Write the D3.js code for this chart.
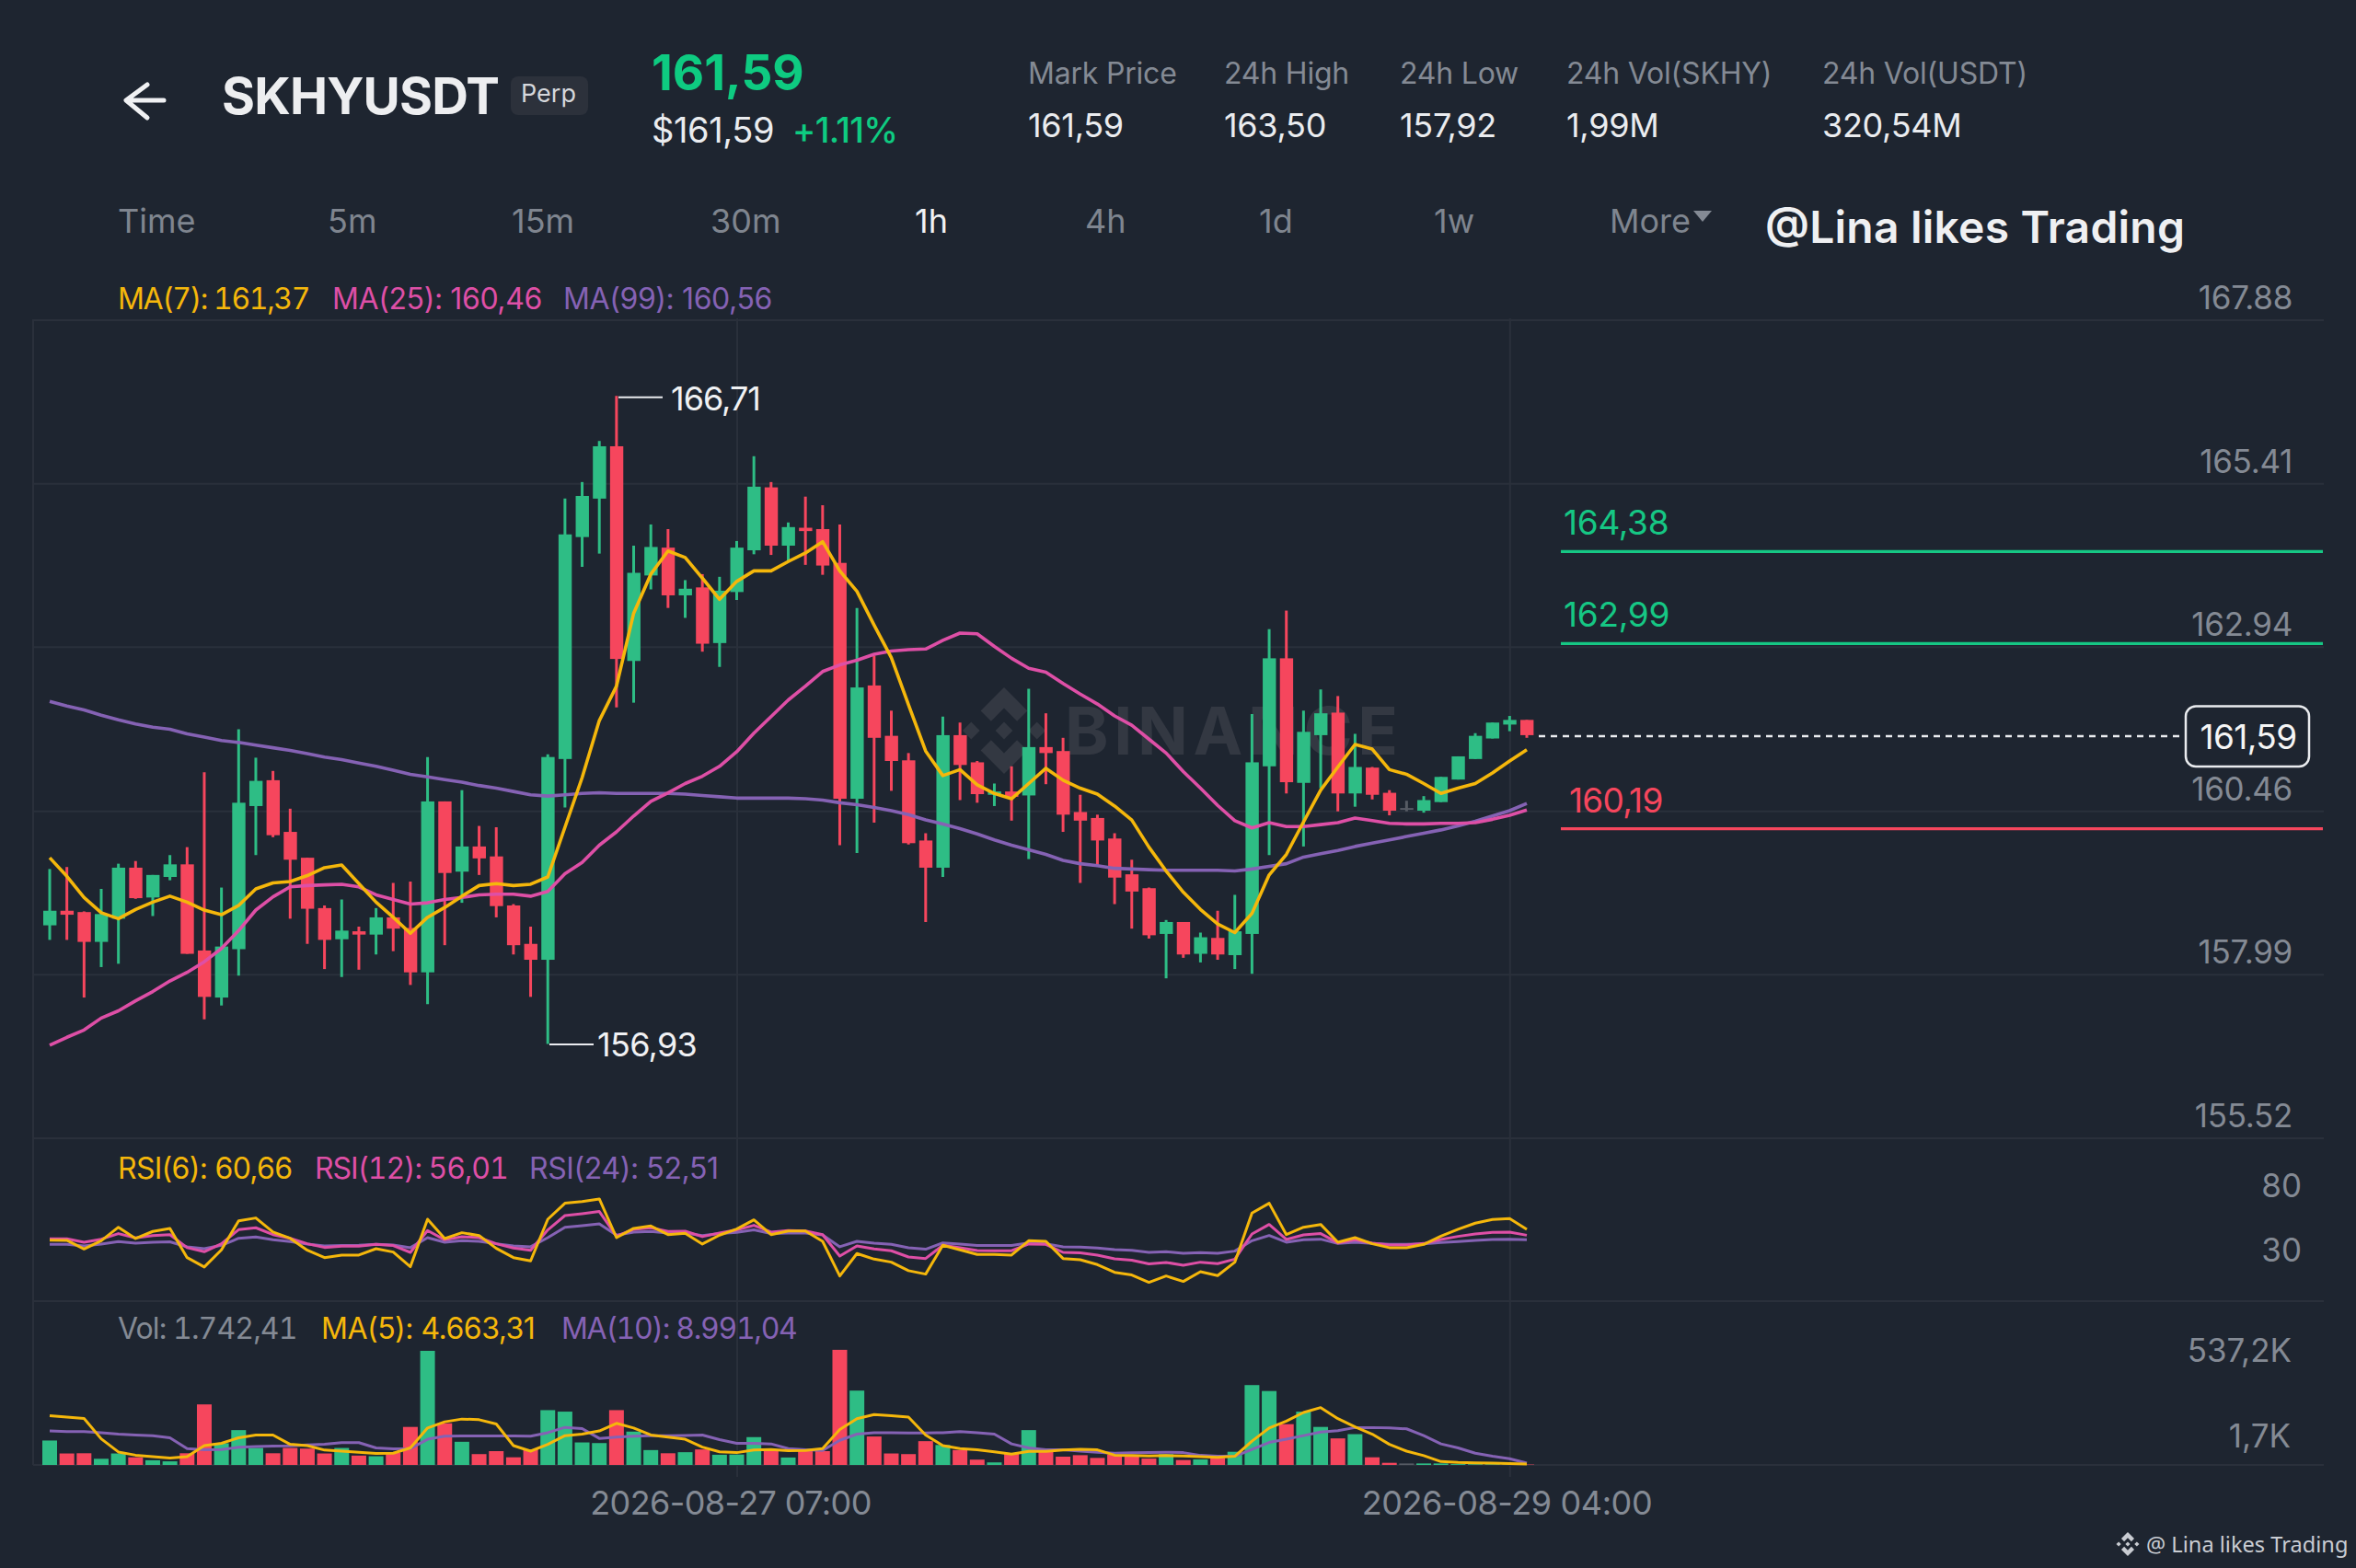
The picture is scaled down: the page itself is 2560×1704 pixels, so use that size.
<!DOCTYPE html>
<html><head><meta charset="utf-8">
<style>html,body{margin:0;padding:0;background:#1e2530;}svg{display:block;}text{font-family:Inter,"Noto Sans",sans-serif;}</style>
<script src="https://cdn.jsdelivr.net/npm/d3@7/dist/d3.min.js"></script>
</head><body><svg id="c" width="2560" height="1704"></svg>
<script>
const opens=[158.72,158.94,158.92,158.47,158.82,159.59,159.14,159.45,159.64,158.34,157.63,158.36,160.52,160.91,160.13,159.74,158.98,158.51,158.63,158.58,158.84,158.68,158.01,160.59,159.53,159.91,159.76,159.02,158.44,158.20,161.23,164.58,165.16,165.95,162.71,164.00,164.42,163.70,163.82,162.98,163.75,164.38,165.33,164.45,164.72,164.70,164.19,160.63,162.34,161.58,161.21,160.00,159.59,161.59,161.18,160.69,160.74,160.68,161.41,161.35,160.43,160.34,160.03,159.49,159.28,158.59,158.77,158.29,158.53,158.27,158.59,161.12,162.75,160.87,161.59,161.93,160.71,161.10,160.72,160.47,160.45,160.58,160.92,161.23,161.54,161.75,161.82];
const closes=[158.94,158.88,158.47,158.89,159.59,159.13,159.48,159.64,158.29,157.64,158.40,160.57,160.90,160.08,159.71,158.97,158.50,158.64,158.58,158.84,158.67,158.01,160.59,159.51,159.91,159.73,159.01,158.42,158.20,161.26,164.62,165.20,165.95,162.74,164.04,164.43,163.70,163.80,162.97,163.77,164.42,165.34,164.45,164.73,164.67,164.15,160.63,162.31,161.55,161.20,159.96,159.59,161.59,161.14,160.70,160.74,160.66,161.41,161.32,160.39,160.30,160.00,159.44,159.23,158.57,158.77,158.28,158.54,158.28,158.63,161.18,162.75,160.88,161.64,161.92,160.71,161.11,160.69,160.45,160.49,160.61,160.96,161.27,161.58,161.78,161.82,161.59];
const highs=[159.57,159.60,158.93,159.27,159.65,159.69,159.48,159.78,159.90,161.03,159.29,161.68,161.25,161.05,160.48,159.74,159.02,159.11,158.70,158.98,159.36,159.38,161.26,160.59,160.76,160.22,160.20,159.04,158.70,161.30,165.16,165.41,166.03,166.71,164.45,164.77,164.70,163.93,164.02,163.98,164.52,165.80,165.41,164.80,165.19,165.06,164.77,163.51,162.79,161.96,161.32,160.11,161.87,161.78,161.20,160.86,161.12,162.29,161.92,161.55,160.69,160.39,160.11,159.71,159.29,158.80,158.77,158.61,158.94,159.18,161.91,163.19,163.47,161.96,162.28,162.18,161.61,161.11,160.76,160.60,160.67,160.96,161.27,161.62,161.78,161.88,161.82];
const lows=[158.50,158.50,157.63,158.09,158.14,159.12,158.86,159.40,158.29,157.30,157.51,157.96,159.78,160.05,158.82,158.44,158.06,157.94,158.05,158.28,158.33,157.82,157.53,158.42,159.06,159.48,158.84,158.28,157.64,156.93,160.50,164.13,164.33,162.01,162.08,163.79,163.51,163.36,162.85,162.62,163.63,164.32,164.31,164.21,164.16,164.01,159.93,159.81,160.27,160.75,159.94,158.77,159.45,160.61,160.57,160.52,160.30,159.72,160.85,160.13,159.36,159.63,159.04,158.67,158.52,157.92,158.23,158.16,158.20,158.06,157.99,159.78,160.71,159.91,160.79,160.44,160.51,160.62,160.38,160.44,160.42,160.58,160.92,161.23,161.54,161.65,161.55];
const ma7=[159.74,159.46,159.14,158.91,158.82,158.96,159.07,159.16,159.07,158.95,158.88,159.02,159.27,159.36,159.38,159.47,159.59,159.63,159.35,159.07,158.84,158.60,158.84,158.99,159.16,159.32,159.35,159.32,159.34,159.45,160.20,160.95,161.81,162.33,163.43,164.02,164.37,164.27,163.96,163.64,163.91,164.07,164.07,164.21,164.34,164.51,164.07,163.76,163.25,162.76,162.05,161.35,160.98,161.07,160.84,160.71,160.63,160.86,161.09,160.91,160.79,160.70,160.52,160.31,159.90,159.54,159.22,158.96,158.74,158.61,158.90,159.48,159.79,160.28,160.76,161.11,161.45,161.38,161.07,161.00,160.86,160.71,160.79,160.86,161.02,161.20,161.37];
const ma25=[156.91,157.03,157.14,157.32,157.43,157.58,157.72,157.88,158.01,158.17,158.37,158.64,158.95,159.15,159.30,159.32,159.33,159.34,159.30,159.18,159.11,159.04,159.06,159.11,159.14,159.18,159.19,159.19,159.16,159.23,159.50,159.67,159.93,160.13,160.37,160.59,160.72,160.86,160.97,161.12,161.34,161.62,161.87,162.12,162.33,162.55,162.65,162.72,162.81,162.86,162.88,162.89,163.02,163.13,163.12,162.93,162.75,162.60,162.54,162.37,162.21,162.06,161.88,161.74,161.53,161.32,161.04,160.79,160.53,160.30,160.19,160.27,160.21,160.21,160.24,160.27,160.34,160.30,160.26,160.25,160.25,160.26,160.26,160.27,160.32,160.38,160.46];
const ma99=[162.10,162.03,161.97,161.89,161.82,161.76,161.71,161.68,161.61,161.56,161.51,161.48,161.44,161.40,161.36,161.31,161.26,161.22,161.17,161.12,161.06,161.00,160.96,160.92,160.88,160.83,160.79,160.74,160.69,160.67,160.69,160.71,160.72,160.71,160.71,160.71,160.71,160.70,160.68,160.66,160.64,160.64,160.64,160.64,160.63,160.61,160.57,160.54,160.50,160.45,160.39,160.31,160.25,160.18,160.10,160.01,159.93,159.86,159.79,159.70,159.65,159.62,159.58,159.57,159.56,159.55,159.55,159.55,159.55,159.54,159.57,159.61,159.65,159.75,159.80,159.85,159.91,159.96,160.01,160.06,160.11,160.16,160.22,160.29,160.37,160.45,160.56];
const rsi6=[52.2,52.0,45.2,51.7,62.3,53.4,59.0,61.4,38.4,31.0,44.5,67.4,69.6,58.5,53.6,44.2,38.4,40.4,40.4,45.4,42.8,31.2,68.6,53.4,58.0,55.8,45.7,38.4,35.8,68.6,81.2,82.6,84.6,54.1,61.4,63.3,56.5,57.5,49.1,56.1,60.9,68.1,56.5,59.4,59.4,51.2,23.9,41.6,37.2,34.8,28.1,25.4,48.1,44.5,40.9,40.9,40.4,51.7,51.2,37.7,36.7,32.9,26.8,24.7,18.9,23.9,19.6,27.3,24.2,34.8,73.5,81.2,56.5,62.3,64.5,50.5,54.1,49.3,46.2,46.2,48.8,55.3,60.7,65.5,68.4,69.1,60.66];
const rsi12=[53.2,53.2,50.5,52.9,57.3,53.9,55.8,56.5,46.2,43.0,49.3,60.4,61.9,56.5,53.6,49.3,46.4,47.4,47.4,48.8,47.9,42.5,59.7,52.4,54.9,54.1,49.3,46.0,44.2,60.2,71.5,73.0,74.7,55.3,60.7,61.9,59.0,59.2,54.9,57.8,60.2,63.8,58.5,59.7,59.4,56.5,39.6,47.6,45.2,43.8,38.9,37.7,48.1,46.2,44.0,43.8,43.8,49.1,48.8,42.5,42.1,40.4,37.5,36.3,33.4,34.6,32.4,34.8,33.6,37.2,57.0,64.5,52.7,56.3,57.3,50.0,52.4,49.8,48.3,48.3,49.5,52.7,55.1,57.0,58.2,58.5,56.01];
const rsi24=[48.8,48.8,47.6,49.1,51.0,49.8,50.5,50.8,46.9,45.4,48.1,53.6,54.6,52.4,51.0,49.1,47.6,47.9,48.1,48.8,48.3,46.2,54.1,50.5,51.7,51.2,49.3,47.6,46.9,54.1,62.3,63.6,65.0,56.1,58.5,59.0,57.8,57.8,55.8,57.3,58.3,60.2,57.3,57.8,57.8,56.3,46.9,51.2,49.8,48.8,46.2,45.0,50.0,49.1,47.9,47.9,47.9,50.0,49.3,46.9,46.6,46.0,44.7,44.2,42.5,43.0,41.8,42.3,41.8,43.5,51.7,55.8,50.5,52.4,52.9,49.5,50.5,49.5,48.8,48.8,49.3,50.3,51.0,52.0,52.7,52.9,52.51];
const volumes=[115,54,55,29,54,36,22,17,55,285,102,164,80,55,80,77,54,80,44,41,58,179,537.2,196,109,51,65,36,73,258,251,106,103,258,157,70,55,60,73,48,49,131,73,35,65,65,542,350,134,54,51,112,94,70,25,12,54,164,65,39,46,33,48,42,30,51,23,26,33,62,376,348,192,251,179,125,145,36,10,7,7,7,4,3,3,2.2,1.74];
const volMa5=[232,225,219,123,61,46,39,33,39,91,102,128,141,141,97,91,70,65,60,54,55,80,174,203,216,213,193,91,65,97,138,145,160,196,174,141,131,121,84,62,58,70,73,67,68,77,167,218,237,232,225,141,91,77,71,62,51,64,64,70,74,71,46,44,42,44,42,39,36,41,112,174,206,247,270,218,179,145,97,65,44,16,12,10,9,7,4.66];
const volMa10=[160,157,157,152,145,141,138,128,77,71,73,83,87,89,90,94,97,105,105,80,76,77,121,135,136,136,136,136,135,152,177,171,125,131,135,138,138,139,141,119,102,102,99,77,71,68,116,145,152,152,151,151,152,157,152,145,99,80,71,71,65,60,55,57,58,60,58,45,41,41,73,106,121,138,155,161,176,176,174,170,138,99,80,55,41,29,8.99];
const priceTicks=[167.88,165.41,162.94,160.46,157.99,155.52];
const rsiTicks=["80","30"];
const volTicks=["537,2K","1,7K"];
const dateLabels=["2026-08-27 07:00","2026-08-29 04:00"];
const dateIndex=[40,85];
const tabs=["Time","5m","15m","30m","1h","4h","1d","1w","More"];
const statLabels=["Mark Price","24h High","24h Low","24h Vol(SKHY)","24h Vol(USDT)"];
const statValues=["161,59","163,50","157,92","1,99M","320,54M"];
const priceLevels=[164.38,162.99,160.19];
const levelLabels=["164,38","162,99","160,19"];
const lastPrice=161.59;
const dimmed=[79];

const GREEN="#2EBD85",RED="#F6465D",YEL="#F5B70B",PINK="#DE4FA6",PUR="#8562B4",GRID="#2A303B",GREY="#848A94",WHITE="#EAECEF";
const svg=d3.select("#c");
svg.append("rect").attr("width",2560).attr("height",1704).attr("fill","#1E2530");
const x=d3.scaleLinear().domain([0,86]).range([54,1659]);
const y=d3.scaleLinear().domain([155.52,167.88]).range([1236,346]);
const yA=d3.scaleLinear().domain([155.52,167.88]).range([1236.5,347.6]);
const yR=d3.scaleLinear().domain([4.1,133.1]).range([1414,1236]);
const yV=d3.scaleLinear().domain([0,537.2]).range([1592,1468]);
const idx=d3.range(opens.length);
const color=i=>dimmed.includes(i)?"#565B64":(closes[i]>=opens[i]?GREEN:RED);

function T(s,px,py,size,fill,weight,anchor,fam,g){const t=(g||svg).append("text").attr("x",px).attr("y",py).attr("font-size",size).attr("fill",fill).attr("font-weight",weight||400).text(s);if(anchor)t.attr("text-anchor",anchor);if(fam)t.style("font-family",fam);return t;}

// grid + axes
const gGrid=svg.append("g");
const axisP=d3.axisLeft(yA).tickValues(priceTicks).tickSize(2489).tickFormat(d=>d.toFixed(2));
const gP=gGrid.append("g").attr("transform","translate(2525,0)").call(axisP);
gP.select(".domain").remove();
gP.selectAll("line").attr("stroke",GRID).attr("stroke-width",2);
gP.selectAll("text").attr("x",-34).attr("dy",-12).attr("fill",GREY).attr("font-size",35).attr("text-anchor","end").style("font-family","Inter").style("letter-spacing","-.3px");
const axisX=d3.axisBottom(x).tickValues(dateIndex).tickSize(-1259).tickFormat((d,i)=>dateLabels[i]);
const gX=gGrid.append("g").attr("transform","translate(0,1605)").call(axisX);
gX.select(".domain").remove();
gX.selectAll("line").attr("stroke",GRID).attr("stroke-width",2);
gX.selectAll("text").attr("y",0).attr("dy",41).attr("dx",(d,i)=>[-7,-3.4][i]).attr("fill",GREY).attr("font-size",36).attr("text-anchor","middle").style("font-family","Inter").style("letter-spacing",(d,i)=>["-.6px","-.4px"][i]);
[1414,1592].forEach(v=>gGrid.append("line").attr("x1",36).attr("x2",2525).attr("y1",v).attr("y2",v).attr("stroke",GRID).attr("stroke-width",2));
gGrid.append("line").attr("x1",36).attr("x2",36).attr("y1",347).attr("y2",1592).attr("stroke",GRID).attr("stroke-width",2);

// watermark
function logo(g,cx,cy,r,fill){
 const P=(pts)=>g.append("polygon").attr("points",pts.map(p=>[cx+p[0]*r,cy+p[1]*r].join(",")).join(" ")).attr("fill",fill);
 const d=(a,b,s)=>P([[a,b-s],[a+s,b],[a,b+s],[a-s,b]]);
 d(0,0,.2);d(-.76,0,.2);d(.76,0,.2);
 P([[0,-1],[.54,-.46],[.3,-.22],[0,-.52],[-.3,-.22],[-.54,-.46]]);
 P([[0,1],[.54,.46],[.3,.22],[0,.52],[-.3,.22],[-.54,.46]]);
}
const wm=svg.append("g");
logo(wm,1091,794,47,"#333842");
T("BINANCE",1157,820,72,"#333842",700,null,"Inter",wm).attr("textLength",362);

// candles
const gC=svg.append("g");
gC.selectAll("line.w").data(idx).join("line").attr("class","w").attr("x1",i=>x(i)).attr("x2",i=>x(i)).attr("y1",i=>y(highs[i])).attr("y2",i=>y(lows[i])).attr("stroke",color).attr("stroke-width",3);
gC.selectAll("rect").data(idx).join("rect").attr("x",i=>x(i)-7).attr("width",14.4).attr("y",i=>y(Math.max(opens[i],closes[i]))).attr("height",i=>Math.max(2,Math.abs(y(opens[i])-y(closes[i])))).attr("fill",color);
const L=(arr,sc,col,w)=>svg.append("path").attr("d",d3.line().x((d,i)=>x(i)).y(d=>sc(d))(arr)).attr("fill","none").attr("stroke",col).attr("stroke-width",w).attr("stroke-linejoin","round");
L(ma99,y,PUR,3.6);L(ma25,y,PINK,3.6);L(ma7,y,YEL,3.6);

// price levels
const levelCol=[ "#16C784","#16C784",RED];
priceLevels.forEach((p,i)=>{svg.append("line").attr("x1",1696).attr("x2",2524).attr("y1",yA(p)).attr("y2",yA(p)).attr("stroke",levelCol[i]).attr("stroke-width",3.2);});
T(levelLabels[0],1699,581,37,levelCol[0]).style("letter-spacing","-.3px");
T(levelLabels[1],1699,681,37,levelCol[1]).style("letter-spacing","-.3px");
T(levelLabels[2],1705,883,37,levelCol[2]).style("letter-spacing","-.7px");
svg.append("line").attr("x1",1672).attr("x2",2375).attr("y1",yA(lastPrice)).attr("y2",yA(lastPrice)).attr("stroke","#EAECEF").attr("stroke-width",2.5).attr("stroke-dasharray","7 6");
svg.append("rect").attr("x",2375).attr("y",767.5).attr("width",134).attr("height",65.5).attr("rx",11).attr("fill","#1E2530").attr("stroke","#EAECEF").attr("stroke-width",2.5);
T("161,59",2443,814,37,"#F5F5F5",400,"middle").style("letter-spacing","-.6px");

// extremes
svg.append("line").attr("x1",672).attr("x2",720).attr("y1",yA(166.71)).attr("y2",yA(166.71)).attr("stroke","#EAECEF").attr("stroke-width",2);
T("166,71",729,446,36,"#F0F1F3").style("letter-spacing","-1px");
svg.append("line").attr("x1",597).attr("x2",645).attr("y1",yA(156.93)).attr("y2",yA(156.93)).attr("stroke","#EAECEF").attr("stroke-width",2);
T("156,93",649,1148,36,"#F0F1F3").style("letter-spacing","-.7px");

// RSI
L(rsi24,yR,PUR,3);L(rsi12,yR,PINK,3);L(rsi6,yR,YEL,3);
// volume
const gV=svg.append("g");
gV.selectAll("rect").data(idx).join("rect").attr("x",i=>x(i)-8).attr("width",16).attr("y",i=>yV(volumes[i])).attr("height",i=>yV(0)-yV(volumes[i])).attr("fill",color);
L(volMa10,yV,PUR,3);L(volMa5,yV,YEL,3);

// legends
const ls="-.5px";
const tn=(t,sp)=>t.style("font-feature-settings",'"tnum"').style("letter-spacing",sp);
tn(T("MA(7): 161,37",128,336,32,YEL),"-1.4px");
T("MA(25): 160,46",361,336,32,PINK).style("letter-spacing","-.4px");
T("MA(99): 160,56",612,336,32,PUR).style("letter-spacing","-.4px");
T("RSI(6): 60,66",128,1281,32,YEL).style("letter-spacing","-.7px");
tn(T("RSI(12): 56,01",342,1281,32,PINK),"-1.1px");
T("RSI(24): 52,51",575,1281,32,PUR).style("letter-spacing","-.4px");
tn(T("Vol: 1.742,41",128,1455,32,GREY),"-.9px");
T("MA(5): 4.663,31",349,1455,32,YEL).style("letter-spacing",ls);
tn(T("MA(10): 8.991,04",610,1455,32,PUR),"-1.3px");
T(rsiTicks[0],2501,1301,35,GREY,400,"end");T(rsiTicks[1],2501,1371,35,GREY,400,"end");
T(volTicks[0],2490,1480,35,GREY,400,"end");T(volTicks[1],2489,1573,35,GREY,400,"end");

// header
svg.append("path").attr("d","M178 109H138M160 92L137 109L160 128").attr("fill","none").attr("stroke","#F0F1F3").attr("stroke-width",5).attr("stroke-linejoin","round").attr("stroke-linecap","round");
T("SKHYUSDT",241,124,55,"#EDEEF0",700).attr("textLength",302);
svg.append("rect").attr("x",555).attr("y",83).attr("width",84).attr("height",42).attr("rx",8).attr("fill","#2C313B");
T("Perp",566,111,27,"#D5D7DB");
T("161,59",708,98,53,"#0ECB81",700);
T("$161,59",708,155,38,WHITE).style("letter-spacing","-.4px");
T("+1.11%",861,155,38,"#0ECB81",500).style("letter-spacing","-.7px");
const statX=[1117,1330,1521,1702,1980];
statLabels.forEach((s,i)=>{T(s,statX[i],91,32,GREY).style("letter-spacing","-.2px");T(statValues[i],statX[i],149,36,WHITE).style("letter-spacing","-.3px");});
const tabX=[128,356,556,772,994,1179,1368,1558,1749];
tabs.forEach((s,i)=>T(s,tabX[i],253,36,s==="1h"?"#F0F1F3":"#7F858F"));
svg.append("polygon").attr("points",d3.range(3).map(i=>[[1840,229],[1860,229],[1850,241]][i].join(",")).join(" ")).attr("fill","#848A94");
T("@Lina likes Trading",1918,264,48,"#EFF0F2",600).attr("textLength",456);
// corner mark
logo(svg.append("g"),2312,1678,13,"#C9CCD2");
T("@ Lina likes Trading",2332,1687,23.6,"#C9CCD2",400,null,"Noto Sans");
</script></body></html>
